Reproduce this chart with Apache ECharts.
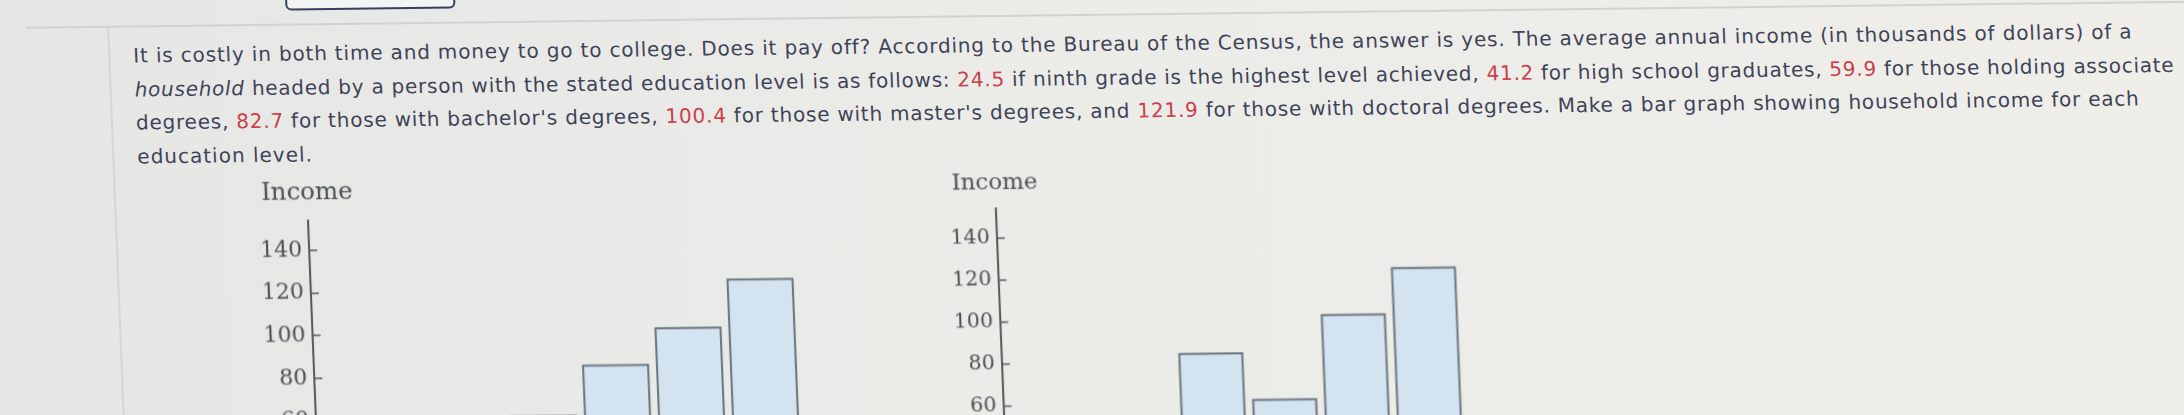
<!DOCTYPE html>
<html>
<head>
<meta charset="utf-8">
<script src="https://cdn.jsdelivr.net/npm/echarts@6/dist/echarts.min.js"></script>
<style>
  html, body {
    margin: 0;
    padding: 0;
    width: 2184px;
    height: 415px;
    overflow: hidden;
    background: #e7e7e5;
  }
  /* the photo is taken a little askew, so the whole sheet is tilted */
  #sheet {
    position: absolute;
    left: 0;
    top: 0;
    width: 2260px;
    height: 720px;
    transform-origin: 0 0;
    transform: matrix(1, -0.012, 0.04, 1, 0, 0);
    background: linear-gradient(to right, #e6e7e5 0%, #ebebe8 45%, #efeee9 100%);
  }
  #topline {
    position: absolute;
    left: 25px;
    top: 27px;
    width: 2235px;
    height: 0;
    border-top: 2px solid #d2d2cf;
  }
  #sideline {
    position: absolute;
    left: 106px;
    top: 28px;
    width: 0;
    height: 700px;
    border-left: 2px solid #d6d6d3;
  }
  #button {
    position: absolute;
    left: 285px;
    top: -30px;
    width: 166px;
    height: 40px;
    background: #f4f4f3;
    border: 2px solid #34425f;
    border-radius: 6px;
  }
  #question {
    position: absolute;
    left: 131px;
    top: 41px;
    font-family: "DejaVu Sans", Verdana, sans-serif;
    font-size: 20px;
    line-height: 33.7px;
    color: #3f4458;
  }
  #question .row {
    height: 33.7px;
    white-space: nowrap;
  }
  #question .line {
    display: inline-block;
    white-space: nowrap;
  }
  #question .num {
    color: #c8414b;
  }
  #chart {
    position: absolute;
    left: 0;
    top: 0;
    width: 2184px;
    height: 700px;
  }
</style>
</head>
<body>
<div id="sheet">
  <div id="topline"></div>
  <div id="sideline"></div>
  <div id="button"></div>
  <div id="question">
    <div class="row"><span class="line" data-w="1999">It is costly in both time and money to go to college. Does it pay off? According to the Bureau of the Census, the answer is yes. The average annual income (in thousands of dollars) of a</span></div>
    <div class="row"><span class="line" data-w="2040"><i>household</i> headed by a person with the stated education level is as follows: <span class="num">24.5</span> if ninth grade is the highest level achieved, <span class="num">41.2</span> for high school graduates, <span class="num">59.9</span> for those holding associate</span></div>
    <div class="row"><span class="line" data-w="2004">degrees, <span class="num">82.7</span> for those with bachelor's degrees, <span class="num">100.4</span> for those with master's degrees, and <span class="num">121.9</span> for those with doctoral degrees. Make a bar graph showing household income for each</span></div>
    <div class="row"><span class="line" data-w="176">education level.</span></div>
  </div>
  <div id="chart"></div>
</div>
<script>
// education levels, lowest to highest
const categories = ['Ninth grade', 'High school', 'Associate', "Bachelor's", "Master's", 'Doctoral'];

// income (thousands of dollars) as drawn in the left graph
const leftIncome = [25, 42.5, 61.4, 84.8, 102, 124.4];

// income as drawn in the right graph
const rightIncome = [25, 42.5, 84, 61.7, 101.7, 123.7];

// tick labels on the income axis
const incomeTicks = [0, 20, 40, 60, 80, 100, 120, 140];

// stretch every question line to the width it has in the photo
document.querySelectorAll('#question .line').forEach((line) => {
  const target = Number(line.dataset.w);
  const chars = line.textContent.length;
  const spacing = (target - line.offsetWidth) / chars;
  line.style.letterSpacing = spacing.toFixed(3) + 'px';
});

const axisColor = '#53575d';
const labelColor = '#4a4e54';

function incomeAxis(gridIndex, offset, fontSize, nameSize, nameGap) {
  return {
    type: 'value',
    gridIndex: gridIndex,
    min: 0,
    max: 154,
    interval: 20,
    offset: offset,
    name: 'Income',
    nameLocation: 'end',
    nameGap: nameGap,
    nameTextStyle: {
      fontFamily: 'DejaVu Serif',
      fontSize: nameSize,
      color: labelColor,
      align: 'center',
      verticalAlign: 'middle',
    },
    axisLine: {
      show: true,
      lineStyle: { color: axisColor, width: 2 },
    },
    axisTick: {
      show: true,
      inside: true,
      length: 8,
      customValues: incomeTicks,
      lineStyle: { color: axisColor, width: 1.5 },
    },
    axisLabel: {
      customValues: incomeTicks,
      margin: 7,
      fontFamily: 'DejaVu Serif',
      fontSize: fontSize,
      color: labelColor,
    },
    splitLine: { show: false },
  };
}

function levelAxis(gridIndex) {
  return {
    type: 'category',
    gridIndex: gridIndex,
    data: categories,
    boundaryGap: true,
    axisLine: { show: true, lineStyle: { color: axisColor, width: 2 } },
    axisTick: { show: false },
    axisLabel: { show: false },
  };
}

const barStyle = {
  color: '#d4e3f0',
  borderColor: '#68737c',
  borderWidth: 2,
};

const chart = echarts.init(document.getElementById('chart'));

chart.setOption({
  animation: false,
  grid: [
    { left: 342, top: 224, width: 443.4, height: 328.5 },
    { left: 1016, top: 220, width: 432, height: 323.4 },
  ],
  xAxis: [levelAxis(0), levelAxis(1)],
  yAxis: [
    incomeAxis(0, 43, 22, 24.5, 27),
    incomeAxis(1, 29.3, 20.5, 23, 25),
  ],
  series: [
    {
      type: 'bar',
      xAxisIndex: 0,
      yAxisIndex: 0,
      data: leftIncome,
      barWidth: 67,
      itemStyle: barStyle,
    },
    {
      type: 'bar',
      xAxisIndex: 1,
      yAxisIndex: 1,
      data: rightIncome,
      barWidth: 65,
      itemStyle: barStyle,
    },
  ],
});
</script>
</body>
</html>
